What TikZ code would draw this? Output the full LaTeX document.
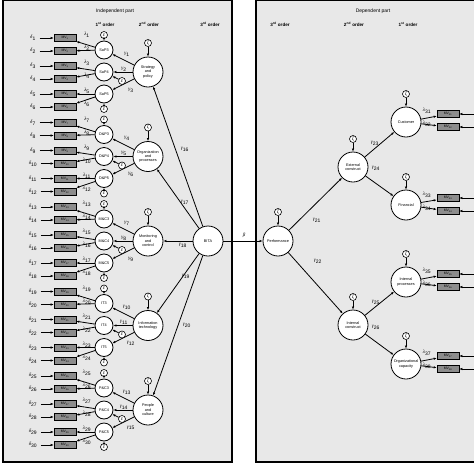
\documentclass[tikz,border=0pt]{standalone}
\usepackage{fontspec}
\setmainfont{Liberation Sans}
\newfontfamily\grk{Liberation Serif}
\newcommand{\gsub}[2]{{\grk\itshape #1}\textsubscript{#2}}
\usetikzlibrary{arrows.meta}
\tikzset{
  >={Latex[length=3pt,width=2.4pt]},
  lat2/.style={circle,draw,line width=0.8pt,fill=white,minimum size=30pt,inner sep=0pt,align=center,font=\fontsize{3.8}{4.4}\selectfont},
  lat1/.style={circle,draw,line width=0.8pt,fill=white,minimum size=18pt,inner sep=0pt,font=\fontsize{3.8}{4.4}\selectfont},
  err/.style={circle,draw,line width=0.6pt,fill=white,minimum size=7pt,inner sep=0pt,font=\fontsize{5.5}{5.5}\selectfont\grk\itshape},
  mvbox/.style={draw,line width=0.6pt,fill=black!45,minimum width=22pt,minimum height=7pt,inner sep=0pt,font=\fontsize{3.4}{4}\selectfont},
  lab/.style={font=\fontsize{5}{5}\selectfont},
  head/.style={font=\fontsize{4.6}{5}\selectfont\bfseries},
}
\begin{document}
\begin{tikzpicture}[x=1pt,y=-1pt,line width=0.8pt]
\useasboundingbox (0,0) rectangle (474,464);
% panels
\draw[line width=1.2pt,fill=black!9] (3,0) rectangle (232,462);
\draw[line width=1.2pt,fill=black!9] (256,0) rectangle (478,462);
\node[lab] at (115,11) {Independent part};
\node[head] at (105,24) {1\textsuperscript{st} order};
\node[head] at (149,24) {2\textsuperscript{nd} order};
\node[head] at (210,24) {3\textsuperscript{rd} order};
\node[lab] at (373,11) {Dependent part};
\node[head] at (280,24) {3\textsuperscript{rd} order};
\node[head] at (354,24) {2\textsuperscript{nd} order};
\node[head] at (408,24) {1\textsuperscript{st} order};

% independent part
\node[lat2] (bita) at (208,241) {BITA};
\foreach \g/\name/\tag in {0/{Strategy\\and\\policy}/SaP,1/{Organization\\and\\processes}/O\&P,2/{Monitoring\\and\\control}/M\&C,3/{Information\\technology}/IT,4/{People\\and\\culture}/P\&C}{
  \pgfmathsetmacro\yc{72+84.5*\g}
  \node[lat2] (s\g) at (148,\yc) {\name};
  \node[err] (z\g) at (148,\yc-29) {ζ};
  \draw[->] (z\g) -- (s\g);
  \draw[->] (bita) -- (s\g);
  \foreach \p/\dx/\dy in {0/127/-18,1/124/-3,2/131/18}{
    \pgfmathtruncatemacro\k{\p+3}
    \pgfmathtruncatemacro\gn{3*\g+\p+1}
    \node[lat1] (f\g\p) at (104,\yc+22*\p-22) {\tag\k};
    \draw[->] (s\g) -- (f\g\p);
    \node[lab] at (\dx,\yc+\dy) {\gsub{γ}{\gn}};
    \foreach \i in {0,1}{
      \pgfmathtruncatemacro\n{6*\g+2*\p+\i+1}
      \pgfmathsetmacro\y{\yc-34+28*\p+13*\i}
      \node[mvbox] (m\n) at (65,\y) {MV\textsubscript{\n}};
      \node[lab] (d\n) at (33,\y) {\gsub{δ}{\n}};
      \draw[->,line width=0.5pt] (d\n) -- (m\n);
      \draw[->] (f\g\p) -- (m\n);
      \node[lab] at (87,\y-3) {\gsub{λ}{\n}};
    }
  }
  \node[err] (e\g0) at (104,\yc-37) {ε};
  \node[err] (e\g1) at (122,\yc+9) {ε};
  \node[err] (e\g2) at (104,\yc+37) {ε};
  \draw[->] (e\g0) -- (f\g0);
  \draw[->] (e\g1) -- (f\g1);
  \draw[->] (e\g2) -- (f\g2);
}
\node[lab] at (185,149) {\gsub{γ}{16}};
\node[lab] at (185,202) {\gsub{γ}{17}};
\node[lab] at (183,245) {\gsub{γ}{18}};
\node[lab] at (186,276) {\gsub{γ}{19}};
\node[lab] at (187,325) {\gsub{γ}{20}};

% dependent part
\node[lat2] (perf) at (278,241) {Performance};
\node[err] (zp) at (278,212) {ζ};
\draw[->] (zp) -- (perf);
\draw[->] (bita) -- (perf);
\node[lab] at (244,235) {{\grk\itshape β}};

\node[lat2] (ext) at (353,167) {External\\construct};
\node[lat2] (int) at (353,325) {Internal\\construct};
\node[err] (zext) at (353,139) {ζ};
\node[err] (zint) at (353,297) {ζ};
\draw[->] (zext) -- (ext);
\draw[->] (zint) -- (int);
\draw[->] (perf) -- (ext);
\draw[->] (perf) -- (int);
\node[lab] at (317,220) {\gsub{γ}{21}};
\node[lab] at (318,261) {\gsub{γ}{22}};

\foreach \c/\name/\yy/\from in {cu/{Customer}/122/ext,fi/{Financial}/205/ext,ip/{Internal\\processes}/282/int,oc/{Organizational\\capacity}/364/int}{
  \node[lat2] (\c) at (406,\yy) {\name};
  \node[err] (z\c) at (406,\yy-28) {ζ};
  \draw[->] (z\c) -- (\c);
  \draw[->] (\from) -- (\c);
}
\node[lab] at (375,143) {\gsub{γ}{23}};
\node[lab] at (376,168) {\gsub{γ}{24}};
\node[lab] at (376,302) {\gsub{γ}{25}};
\node[lab] at (376,327) {\gsub{γ}{26}};

\foreach \n/\yy/\from in {31/114/cu,32/127/cu,33/198/fi,34/211/fi,35/274/ip,36/287/ip,37/356/oc,38/369/oc}{
  \node[mvbox] (m\n) at (448,\yy) {MV\textsubscript{\n}};
  \coordinate (r\n) at (478,\yy);
  \draw[->] (\from) -- (m\n);
  \draw[->,line width=0.5pt] (r\n) -- (m\n);
  \node[lab] at (427,\yy-3) {\gsub{λ}{\n}};
}
\end{tikzpicture}
\end{document}
